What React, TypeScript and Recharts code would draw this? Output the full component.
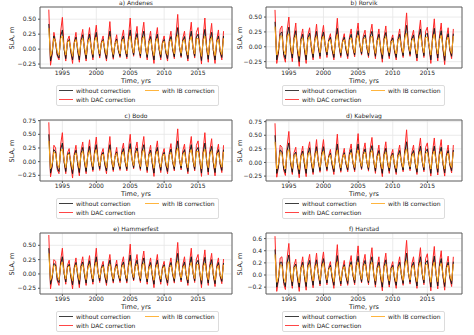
import { CartesianGrid, Line, LineChart, ReferenceArea, XAxis, YAxis } from 'recharts';

// quarterly samples, 1993.00 .. 2018.75
const TIME = Array.from({ length: 104 }, (_, i) => 1993 + i / 4);

// a) Andenes
const ANDENES_RAW = [
  0.42, -0.2, -0.06, 0.22, 0.1, -0.1, -0.15, 0.22, 0.32, 0.0, -0.16, 0.12, 0.16, -0.04, -0.18, 0.1,
  0.2, -0.02, -0.18, 0.14, 0.24, 0.0, -0.16, 0.12, 0.25, 0.02, -0.14, 0.15, 0.28, 0.04, -0.12, 0.1,
  0.16, -0.03, -0.16, 0.12, 0.3, 0.03, -0.14, 0.08, 0.17, -0.02, -0.12, 0.14, 0.22, 0.0, -0.13, 0.16,
  0.32, 0.05, -0.1, 0.15, 0.26, 0.02, -0.12, 0.18, 0.3, 0.03, -0.14, 0.11, 0.21, -0.02, -0.18, 0.14,
  0.25, 0.0, -0.14, 0.1, 0.16, -0.05, -0.16, 0.12, 0.21, 0.0, -0.13, 0.18, 0.36, 0.04, -0.12, 0.14,
  0.21, -0.02, -0.16, 0.16, 0.3, 0.02, -0.12, 0.2, 0.25, 0.02, -0.19, 0.15, 0.33, 0.03, -0.17, 0.15,
  0.28, -0.02, -0.18, 0.12, 0.22, -0.04, -0.14, 0.22,
];
const ANDENES_DAC = [
  0.66, -0.27, -0.08, 0.28, 0.12, -0.12, -0.18, 0.3, 0.53, 0.02, -0.2, 0.15, 0.22, -0.05, -0.24, 0.12,
  0.28, -0.02, -0.22, 0.18, 0.33, 0.0, -0.2, 0.15, 0.36, 0.02, -0.18, 0.2, 0.4, 0.05, -0.15, 0.12,
  0.22, -0.04, -0.2, 0.16, 0.46, 0.04, -0.17, 0.1, 0.24, -0.02, -0.14, 0.18, 0.32, 0.0, -0.16, 0.22,
  0.52, 0.06, -0.12, 0.2, 0.38, 0.02, -0.15, 0.25, 0.45, 0.04, -0.18, 0.14, 0.3, -0.03, -0.24, 0.18,
  0.36, 0.0, -0.18, 0.12, 0.22, -0.06, -0.2, 0.15, 0.3, 0.0, -0.16, 0.25, 0.58, 0.05, -0.14, 0.18,
  0.3, -0.02, -0.2, 0.22, 0.45, 0.03, -0.15, 0.28, 0.36, 0.02, -0.25, 0.2, 0.52, 0.04, -0.22, 0.2,
  0.43, -0.02, -0.24, 0.15, 0.32, -0.05, -0.18, 0.3,
];
const ANDENES_IB = [
  0.35, -0.12, -0.02, 0.18, 0.12, -0.05, -0.1, 0.18, 0.22, 0.03, -0.1, 0.12, 0.14, 0.0, -0.12, 0.1,
  0.16, 0.02, -0.11, 0.13, 0.18, 0.03, -0.1, 0.12, 0.18, 0.04, -0.09, 0.14, 0.2, 0.05, -0.08, 0.1,
  0.14, 0.01, -0.1, 0.12, 0.21, 0.04, -0.09, 0.09, 0.14, 0.01, -0.08, 0.13, 0.17, 0.02, -0.08, 0.14,
  0.22, 0.05, -0.06, 0.14, 0.19, 0.03, -0.08, 0.16, 0.21, 0.04, -0.09, 0.11, 0.16, 0.01, -0.11, 0.13,
  0.18, 0.02, -0.09, 0.1, 0.13, -0.02, -0.1, 0.11, 0.16, 0.02, -0.08, 0.16, 0.24, 0.05, -0.07, 0.13,
  0.16, 0.01, -0.1, 0.14, 0.21, 0.03, -0.08, 0.17, 0.18, 0.03, -0.12, 0.14, 0.22, 0.04, -0.1, 0.14,
  0.2, 0.01, -0.11, 0.12, 0.17, -0.01, -0.09, 0.18,
];

// b) Rorvik
const RORVIK_RAW = [
  0.42, -0.22, -0.08, 0.22, 0.25, -0.12, -0.2, 0.2, 0.33, -0.01, -0.19, 0.14, 0.27, -0.06, -0.25, 0.12,
  0.21, -0.04, -0.22, 0.15, 0.23, -0.01, -0.18, 0.11, 0.26, 0.0, -0.16, 0.14, 0.25, 0.02, -0.14, 0.1,
  0.16, -0.05, -0.18, 0.12, 0.31, 0.02, -0.15, 0.08, 0.16, -0.04, -0.16, 0.13, 0.21, -0.01, -0.14, 0.15,
  0.27, 0.03, -0.12, 0.14, 0.2, 0.0, -0.15, 0.17, 0.26, 0.02, -0.16, 0.1, 0.21, -0.03, -0.2, 0.13,
  0.24, -0.01, -0.16, 0.08, 0.15, -0.06, -0.18, 0.11, 0.21, -0.01, -0.15, 0.18, 0.36, 0.03, -0.13, 0.13,
  0.2, -0.03, -0.19, 0.16, 0.3, 0.02, -0.15, 0.2, 0.23, 0.0, -0.22, 0.14, 0.31, 0.02, -0.19, 0.14,
  0.27, -0.03, -0.23, 0.11, 0.22, -0.05, -0.16, 0.22,
];
const RORVIK_DAC = [
  0.62, -0.28, -0.1, 0.3, 0.35, -0.15, -0.26, 0.28, 0.5, -0.02, -0.25, 0.18, 0.4, -0.08, -0.33, 0.15,
  0.3, -0.05, -0.28, 0.2, 0.32, -0.02, -0.22, 0.14, 0.38, 0.0, -0.2, 0.18, 0.36, 0.02, -0.18, 0.12,
  0.22, -0.06, -0.22, 0.15, 0.48, 0.02, -0.18, 0.1, 0.22, -0.05, -0.2, 0.16, 0.3, -0.02, -0.17, 0.2,
  0.4, 0.03, -0.14, 0.18, 0.28, 0.0, -0.18, 0.22, 0.38, 0.02, -0.2, 0.12, 0.3, -0.04, -0.26, 0.16,
  0.35, -0.02, -0.2, 0.1, 0.2, -0.08, -0.22, 0.14, 0.3, -0.02, -0.18, 0.24, 0.57, 0.04, -0.16, 0.16,
  0.28, -0.04, -0.24, 0.2, 0.45, 0.02, -0.18, 0.26, 0.33, 0.0, -0.28, 0.18, 0.47, 0.02, -0.24, 0.18,
  0.4, -0.04, -0.3, 0.14, 0.32, -0.06, -0.2, 0.3,
];
const RORVIK_IB = [
  0.34, -0.14, -0.04, 0.18, 0.18, -0.06, -0.13, 0.16, 0.22, 0.02, -0.12, 0.12, 0.19, -0.02, -0.16, 0.1,
  0.15, 0.0, -0.14, 0.12, 0.17, 0.02, -0.12, 0.1, 0.18, 0.03, -0.1, 0.12, 0.18, 0.04, -0.09, 0.09,
  0.12, -0.01, -0.12, 0.1, 0.21, 0.03, -0.1, 0.08, 0.12, 0.0, -0.11, 0.11, 0.15, 0.01, -0.1, 0.13,
  0.19, 0.04, -0.08, 0.12, 0.15, 0.02, -0.1, 0.14, 0.18, 0.03, -0.11, 0.09, 0.15, 0.0, -0.13, 0.11,
  0.17, 0.01, -0.1, 0.08, 0.11, -0.03, -0.12, 0.1, 0.15, 0.01, -0.1, 0.15, 0.23, 0.04, -0.08, 0.11,
  0.14, 0.0, -0.12, 0.13, 0.2, 0.02, -0.1, 0.16, 0.16, 0.02, -0.14, 0.12, 0.21, 0.03, -0.12, 0.12,
  0.19, 0.0, -0.15, 0.1, 0.16, -0.02, -0.11, 0.18,
];

// c) Bodo
const BODO_RAW = [
  0.5, -0.21, -0.07, 0.22, 0.18, -0.12, -0.18, 0.23, 0.34, 0.0, -0.18, 0.13, 0.17, -0.05, -0.22, 0.11,
  0.21, -0.03, -0.2, 0.15, 0.26, 0.0, -0.18, 0.12, 0.28, 0.02, -0.15, 0.16, 0.31, 0.04, -0.13, 0.11,
  0.17, -0.04, -0.17, 0.13, 0.31, 0.03, -0.15, 0.08, 0.18, -0.02, -0.13, 0.15, 0.24, 0.0, -0.14, 0.17,
  0.33, 0.05, -0.11, 0.16, 0.25, 0.02, -0.13, 0.19, 0.31, 0.03, -0.16, 0.12, 0.21, -0.03, -0.21, 0.15,
  0.26, 0.0, -0.16, 0.1, 0.17, -0.05, -0.18, 0.12, 0.23, 0.0, -0.14, 0.19, 0.38, 0.04, -0.12, 0.15,
  0.22, -0.02, -0.18, 0.17, 0.31, 0.02, -0.14, 0.21, 0.26, 0.02, -0.21, 0.16, 0.34, 0.03, -0.19, 0.16,
  0.28, -0.02, -0.2, 0.13, 0.22, -0.04, -0.16, 0.22,
];
const BODO_DAC = [
  0.72, -0.28, -0.08, 0.3, 0.25, -0.15, -0.22, 0.32, 0.53, 0.0, -0.22, 0.16, 0.24, -0.06, -0.3, 0.14,
  0.3, -0.04, -0.26, 0.2, 0.36, 0.0, -0.22, 0.15, 0.4, 0.02, -0.18, 0.22, 0.45, 0.04, -0.16, 0.14,
  0.24, -0.05, -0.22, 0.18, 0.46, 0.03, -0.18, 0.1, 0.26, -0.03, -0.16, 0.2, 0.34, 0.0, -0.17, 0.24,
  0.5, 0.06, -0.13, 0.22, 0.36, 0.02, -0.16, 0.26, 0.46, 0.04, -0.2, 0.15, 0.3, -0.04, -0.27, 0.2,
  0.38, 0.0, -0.2, 0.13, 0.24, -0.06, -0.22, 0.16, 0.33, 0.0, -0.17, 0.26, 0.6, 0.05, -0.15, 0.2,
  0.32, -0.02, -0.22, 0.24, 0.46, 0.03, -0.17, 0.3, 0.38, 0.02, -0.27, 0.22, 0.53, 0.04, -0.24, 0.22,
  0.42, -0.02, -0.26, 0.16, 0.32, -0.05, -0.2, 0.3,
];
const BODO_IB = [
  0.38, -0.13, -0.03, 0.18, 0.14, -0.05, -0.11, 0.19, 0.23, 0.03, -0.11, 0.12, 0.14, 0.0, -0.14, 0.1,
  0.16, 0.02, -0.12, 0.13, 0.19, 0.03, -0.11, 0.12, 0.2, 0.04, -0.09, 0.14, 0.22, 0.05, -0.08, 0.1,
  0.14, 0.01, -0.11, 0.12, 0.22, 0.04, -0.1, 0.09, 0.15, 0.01, -0.09, 0.13, 0.18, 0.02, -0.09, 0.15,
  0.23, 0.05, -0.07, 0.14, 0.19, 0.03, -0.09, 0.16, 0.22, 0.04, -0.1, 0.11, 0.16, 0.01, -0.12, 0.13,
  0.19, 0.02, -0.1, 0.1, 0.14, -0.02, -0.11, 0.11, 0.17, 0.02, -0.09, 0.16, 0.25, 0.05, -0.08, 0.13,
  0.17, 0.01, -0.11, 0.15, 0.22, 0.03, -0.09, 0.18, 0.19, 0.03, -0.13, 0.14, 0.23, 0.04, -0.11, 0.14,
  0.2, 0.01, -0.12, 0.12, 0.17, -0.01, -0.1, 0.18,
];

// d) Kabelvag
const KABELVAG_RAW = [
  0.5, -0.2, -0.07, 0.23, 0.2, -0.11, -0.19, 0.22, 0.36, 0.0, -0.18, 0.14, 0.19, -0.05, -0.21, 0.11,
  0.21, -0.03, -0.2, 0.16, 0.27, 0.0, -0.18, 0.12, 0.29, 0.02, -0.15, 0.15, 0.29, 0.04, -0.13, 0.1,
  0.17, -0.04, -0.17, 0.12, 0.34, 0.03, -0.15, 0.08, 0.18, -0.02, -0.14, 0.15, 0.24, 0.0, -0.14, 0.16,
  0.34, 0.05, -0.11, 0.15, 0.25, 0.02, -0.13, 0.19, 0.31, 0.03, -0.16, 0.11, 0.22, -0.03, -0.2, 0.14,
  0.26, 0.0, -0.16, 0.1, 0.17, -0.05, -0.18, 0.12, 0.22, 0.0, -0.14, 0.19, 0.38, 0.04, -0.12, 0.14,
  0.22, -0.02, -0.18, 0.16, 0.3, 0.02, -0.14, 0.2, 0.25, 0.02, -0.2, 0.15, 0.3, 0.03, -0.18, 0.16,
  0.28, -0.02, -0.19, 0.12, 0.22, -0.04, -0.15, 0.23,
];
const KABELVAG_DAC = [
  0.72, -0.27, -0.08, 0.32, 0.28, -0.14, -0.24, 0.3, 0.57, 0.0, -0.22, 0.18, 0.28, -0.06, -0.28, 0.14,
  0.3, -0.04, -0.26, 0.22, 0.38, 0.0, -0.22, 0.15, 0.42, 0.02, -0.18, 0.2, 0.42, 0.04, -0.16, 0.12,
  0.24, -0.05, -0.22, 0.16, 0.52, 0.03, -0.18, 0.1, 0.26, -0.03, -0.17, 0.2, 0.34, 0.0, -0.17, 0.22,
  0.53, 0.06, -0.13, 0.2, 0.36, 0.02, -0.16, 0.26, 0.46, 0.04, -0.2, 0.14, 0.32, -0.04, -0.26, 0.18,
  0.38, 0.0, -0.2, 0.12, 0.24, -0.06, -0.22, 0.16, 0.32, 0.0, -0.17, 0.26, 0.6, 0.05, -0.15, 0.18,
  0.32, -0.02, -0.22, 0.22, 0.45, 0.03, -0.17, 0.28, 0.36, 0.02, -0.25, 0.2, 0.45, 0.04, -0.23, 0.22,
  0.42, -0.02, -0.25, 0.15, 0.32, -0.05, -0.19, 0.32,
];
const KABELVAG_IB = [
  0.38, -0.12, -0.03, 0.19, 0.15, -0.05, -0.12, 0.18, 0.24, 0.03, -0.11, 0.13, 0.15, 0.0, -0.13, 0.1,
  0.16, 0.02, -0.12, 0.14, 0.19, 0.03, -0.11, 0.12, 0.21, 0.04, -0.09, 0.13, 0.21, 0.05, -0.08, 0.09,
  0.14, 0.01, -0.11, 0.11, 0.23, 0.04, -0.1, 0.09, 0.15, 0.01, -0.09, 0.13, 0.18, 0.02, -0.09, 0.14,
  0.23, 0.05, -0.07, 0.14, 0.19, 0.03, -0.09, 0.16, 0.22, 0.04, -0.1, 0.1, 0.16, 0.01, -0.12, 0.12,
  0.19, 0.02, -0.1, 0.09, 0.14, -0.02, -0.11, 0.11, 0.16, 0.02, -0.09, 0.16, 0.25, 0.05, -0.08, 0.12,
  0.17, 0.01, -0.11, 0.14, 0.21, 0.03, -0.09, 0.17, 0.18, 0.03, -0.12, 0.14, 0.21, 0.04, -0.11, 0.14,
  0.2, 0.01, -0.12, 0.11, 0.17, -0.01, -0.09, 0.19,
];

// e) Hammerfest
const HAMMERFEST_RAW = [
  0.45, -0.18, -0.05, 0.18, 0.16, -0.1, -0.15, 0.18, 0.3, 0.01, -0.14, 0.12, 0.17, -0.04, -0.19, 0.1,
  0.2, -0.02, -0.18, 0.13, 0.21, 0.0, -0.16, 0.11, 0.23, 0.02, -0.14, 0.14, 0.3, 0.03, -0.12, 0.1,
  0.16, -0.03, -0.16, 0.12, 0.24, 0.02, -0.13, 0.08, 0.17, -0.02, -0.12, 0.14, 0.21, 0.0, -0.13, 0.15,
  0.33, 0.04, -0.1, 0.14, 0.24, 0.02, -0.12, 0.16, 0.28, 0.02, -0.14, 0.11, 0.2, -0.02, -0.18, 0.12,
  0.24, 0.0, -0.14, 0.1, 0.16, -0.04, -0.16, 0.11, 0.2, 0.0, -0.13, 0.17, 0.36, 0.04, -0.11, 0.12,
  0.21, -0.02, -0.16, 0.15, 0.3, 0.02, -0.12, 0.19, 0.24, 0.02, -0.18, 0.14, 0.29, 0.02, -0.16, 0.14,
  0.25, -0.02, -0.17, 0.11, 0.2, -0.03, -0.13, 0.19,
];
const HAMMERFEST_DAC = [
  0.68, -0.26, -0.06, 0.25, 0.22, -0.12, -0.2, 0.24, 0.45, 0.02, -0.18, 0.15, 0.24, -0.05, -0.26, 0.12,
  0.28, -0.02, -0.24, 0.16, 0.3, 0.0, -0.2, 0.14, 0.32, 0.02, -0.18, 0.18, 0.45, 0.04, -0.15, 0.12,
  0.22, -0.04, -0.2, 0.16, 0.34, 0.03, -0.16, 0.1, 0.24, -0.02, -0.15, 0.18, 0.3, 0.0, -0.16, 0.2,
  0.52, 0.05, -0.12, 0.18, 0.34, 0.02, -0.15, 0.22, 0.4, 0.03, -0.18, 0.14, 0.28, -0.03, -0.24, 0.16,
  0.34, 0.0, -0.18, 0.12, 0.22, -0.05, -0.2, 0.14, 0.28, 0.0, -0.16, 0.22, 0.55, 0.05, -0.14, 0.16,
  0.3, -0.02, -0.2, 0.2, 0.45, 0.03, -0.15, 0.26, 0.34, 0.02, -0.24, 0.18, 0.42, 0.03, -0.2, 0.18,
  0.36, -0.02, -0.22, 0.14, 0.28, -0.04, -0.17, 0.26,
];
const HAMMERFEST_IB = [
  0.36, -0.11, -0.02, 0.15, 0.13, -0.04, -0.1, 0.15, 0.21, 0.03, -0.09, 0.11, 0.14, 0.0, -0.12, 0.09,
  0.16, 0.02, -0.11, 0.11, 0.16, 0.03, -0.1, 0.1, 0.17, 0.04, -0.09, 0.12, 0.21, 0.04, -0.07, 0.09,
  0.13, 0.01, -0.1, 0.11, 0.17, 0.03, -0.09, 0.08, 0.14, 0.01, -0.08, 0.12, 0.16, 0.02, -0.08, 0.13,
  0.22, 0.05, -0.06, 0.12, 0.17, 0.03, -0.08, 0.14, 0.19, 0.03, -0.09, 0.1, 0.15, 0.01, -0.11, 0.11,
  0.17, 0.02, -0.09, 0.09, 0.13, -0.01, -0.1, 0.1, 0.15, 0.02, -0.08, 0.14, 0.23, 0.05, -0.07, 0.11,
  0.15, 0.01, -0.1, 0.13, 0.2, 0.03, -0.08, 0.16, 0.17, 0.03, -0.11, 0.12, 0.19, 0.03, -0.1, 0.12,
  0.17, 0.01, -0.11, 0.1, 0.15, -0.01, -0.08, 0.16,
];

// f) Harstad
const HARSTAD_RAW = [
  0.42, -0.2, -0.07, 0.21, 0.21, -0.11, -0.19, 0.21, 0.33, 0.0, -0.18, 0.13, 0.18, -0.05, -0.2, 0.11,
  0.21, -0.02, -0.19, 0.15, 0.24, 0.0, -0.17, 0.11, 0.25, 0.02, -0.15, 0.15, 0.27, 0.04, -0.13, 0.1,
  0.16, -0.04, -0.17, 0.12, 0.32, 0.03, -0.15, 0.08, 0.17, -0.02, -0.14, 0.14, 0.22, 0.0, -0.13, 0.16,
  0.31, 0.04, -0.11, 0.15, 0.24, 0.02, -0.13, 0.18, 0.3, 0.02, -0.16, 0.11, 0.21, -0.03, -0.2, 0.14,
  0.25, 0.0, -0.16, 0.1, 0.16, -0.05, -0.17, 0.12, 0.21, 0.0, -0.14, 0.18, 0.36, 0.04, -0.12, 0.14,
  0.21, -0.02, -0.18, 0.16, 0.3, 0.02, -0.13, 0.2, 0.24, 0.02, -0.2, 0.15, 0.31, 0.02, -0.18, 0.15,
  0.27, -0.02, -0.19, 0.12, 0.21, -0.04, -0.15, 0.22,
];
const HARSTAD_DAC = [
  0.64, -0.27, -0.08, 0.28, 0.3, -0.14, -0.24, 0.28, 0.52, 0.0, -0.22, 0.16, 0.26, -0.06, -0.27, 0.13,
  0.3, -0.03, -0.25, 0.2, 0.34, 0.0, -0.21, 0.14, 0.36, 0.02, -0.18, 0.2, 0.38, 0.04, -0.16, 0.12,
  0.22, -0.05, -0.22, 0.16, 0.5, 0.03, -0.18, 0.1, 0.24, -0.03, -0.17, 0.18, 0.32, 0.0, -0.16, 0.22,
  0.48, 0.05, -0.13, 0.2, 0.34, 0.02, -0.16, 0.24, 0.45, 0.03, -0.2, 0.14, 0.3, -0.04, -0.26, 0.18,
  0.36, 0.0, -0.2, 0.12, 0.22, -0.06, -0.22, 0.15, 0.3, 0.0, -0.17, 0.24, 0.57, 0.05, -0.15, 0.18,
  0.3, -0.02, -0.22, 0.22, 0.45, 0.03, -0.16, 0.27, 0.35, 0.02, -0.26, 0.2, 0.47, 0.03, -0.23, 0.2,
  0.4, -0.02, -0.25, 0.15, 0.31, -0.05, -0.19, 0.3,
];
const HARSTAD_IB = [
  0.34, -0.12, -0.03, 0.17, 0.15, -0.05, -0.12, 0.17, 0.22, 0.03, -0.11, 0.12, 0.14, 0.0, -0.13, 0.1,
  0.16, 0.02, -0.12, 0.13, 0.18, 0.03, -0.1, 0.11, 0.18, 0.04, -0.09, 0.13, 0.2, 0.05, -0.08, 0.09,
  0.13, 0.01, -0.11, 0.11, 0.22, 0.04, -0.1, 0.09, 0.14, 0.01, -0.09, 0.12, 0.17, 0.02, -0.08, 0.14,
  0.21, 0.05, -0.07, 0.14, 0.18, 0.03, -0.09, 0.15, 0.21, 0.03, -0.1, 0.1, 0.15, 0.01, -0.12, 0.12,
  0.18, 0.02, -0.1, 0.09, 0.13, -0.02, -0.11, 0.11, 0.16, 0.02, -0.09, 0.15, 0.24, 0.05, -0.08, 0.12,
  0.16, 0.01, -0.11, 0.14, 0.21, 0.03, -0.08, 0.17, 0.17, 0.03, -0.12, 0.13, 0.21, 0.03, -0.11, 0.13,
  0.19, 0.01, -0.12, 0.11, 0.16, -0.01, -0.09, 0.18,
];

const X_DOMAIN: [number, number] = [1991.7, 2020];
const X_TICKS = [1995, 2000, 2005, 2010, 2015];
const TICKS_025 = [-0.25, 0, 0.25, 0.5];
const TICKS_075 = [-0.25, 0, 0.25, 0.5, 0.75];
const TICKS_02 = [-0.2, 0, 0.2, 0.4, 0.6];

const PANELS = [
  { title: 'a) Andenes', col: 0, row: 0, y: [-0.316, 0.704], ticks: TICKS_025, dec: 2, raw: ANDENES_RAW, dac: ANDENES_DAC, ib: ANDENES_IB },
  { title: 'b) Rorvik', col: 1, row: 0, y: [-0.357, 0.669], ticks: TICKS_025, dec: 2, raw: RORVIK_RAW, dac: RORVIK_DAC, ib: RORVIK_IB },
  { title: 'c) Bodo', col: 0, row: 1, y: [-0.354, 0.762], ticks: TICKS_075, dec: 2, raw: BODO_RAW, dac: BODO_DAC, ib: BODO_IB },
  { title: 'd) Kabelvag', col: 1, row: 1, y: [-0.34, 0.78], ticks: TICKS_075, dec: 2, raw: KABELVAG_RAW, dac: KABELVAG_DAC, ib: KABELVAG_IB },
  { title: 'e) Hammerfest', col: 0, row: 2, y: [-0.35, 0.715], ticks: TICKS_025, dec: 2, raw: HAMMERFEST_RAW, dac: HAMMERFEST_DAC, ib: HAMMERFEST_IB },
  { title: 'f) Harstad', col: 1, row: 2, y: [-0.313, 0.692], ticks: TICKS_02, dec: 1, raw: HARSTAD_RAW, dac: HARSTAD_DAC, ib: HARSTAD_IB },
];

const FONT = '"DejaVu Sans", sans-serif';
const TEXT = '#262626';
const C_RAW = '#1c1c1c';
const C_DAC = '#ff2626';
const C_IB = '#ffa81c';

const COLS = [
  { x: 0, w: 237, axisW: 40, right: 5, label: 12 },
  { x: 234, w: 240, axisW: 32, right: 12, label: 240 },
];
const ROW_TOPS = [7, 120, 233];
const PLOT_H = 61;

const fmt = (dec: number) => (v: number) => (v < 0 ? '\u2212' : '') + Math.abs(v).toFixed(dec);

function LegendItem({ x, y, color, label }: { x: number; y: number; color: string; label: string }) {
  return (
    <>
      <div style={{ position: 'absolute', left: x, top: y, width: 14, height: 1, background: color, opacity: 0.85 }} />
      <div style={{ position: 'absolute', left: x + 17, top: y - 4.5, height: 10, lineHeight: '10px', whiteSpace: 'nowrap' }}>
        {label}
      </div>
    </>
  );
}

function Panel({ p }: { p: (typeof PANELS)[number] }) {
  const col = COLS[p.col];
  const top = ROW_TOPS[p.row];
  const plotLeft = col.x + col.axisW;
  const plotW = col.w - col.axisW - col.right;
  const bottom = top + PLOT_H;
  const data = TIME.map((t, i) => ({ t, raw: p.raw[i], dac: p.dac[i], ib: p.ib[i] }));
  const tickStyle = { fontSize: 6, fill: TEXT, fontFamily: FONT };

  return (
    <>
      <div style={{ position: 'absolute', left: plotLeft, width: plotW, top: top - 9, height: 10, lineHeight: '10px', textAlign: 'center', fontSize: 6 }}>
        {p.title}
      </div>
      <div style={{ position: 'absolute', left: col.x, top: top - 5 }}>
        <LineChart width={col.w} height={5 + PLOT_H + 14} data={data} margin={{ top: 5, right: col.right, bottom: 0, left: 0 }}>
          <CartesianGrid stroke="#e6e6e6" strokeWidth={0.8} />
          <XAxis
            dataKey="t"
            type="number"
            domain={X_DOMAIN}
            ticks={X_TICKS}
            allowDataOverflow
            interval={0}
            height={14}
            tickSize={2}
            tickMargin={1}
            axisLine={false}
            tickLine={{ stroke: '#555' }}
            tick={tickStyle}
          />
          <YAxis
            type="number"
            domain={p.y}
            ticks={p.ticks}
            allowDataOverflow
            interval={0}
            width={col.axisW}
            tickSize={2}
            tickMargin={2}
            axisLine={false}
            tickLine={{ stroke: '#555' }}
            tick={tickStyle}
            tickFormatter={fmt(p.dec)}
          />
          <Line type="linear" dataKey="dac" stroke={C_DAC} strokeWidth={1} dot={false} isAnimationActive={false} />
          <Line type="linear" dataKey="raw" stroke={C_RAW} strokeWidth={1} dot={false} isAnimationActive={false} />
          <Line type="linear" dataKey="ib" stroke={C_IB} strokeWidth={1} dot={false} isAnimationActive={false} />
          <ReferenceArea x1={X_DOMAIN[0]} x2={X_DOMAIN[1]} y1={p.y[0]} y2={p.y[1]} fill="none" stroke="#555" strokeWidth={0.9} ifOverflow="visible" />
        </LineChart>
      </div>
      <div style={{ position: 'absolute', left: plotLeft, width: plotW, top: bottom + 7.5, height: 10, lineHeight: '10px', textAlign: 'center', fontSize: 6.5 }}>
        Time, yrs
      </div>
      <div
        style={{
          position: 'absolute',
          left: col.label - 20,
          width: 40,
          top: top + PLOT_H / 2 - 5,
          height: 10,
          lineHeight: '10px',
          textAlign: 'center',
          fontSize: 6.5,
          transform: 'rotate(-90deg)',
        }}
      >
        SLA, m
      </div>
      <div
        style={{
          position: 'absolute',
          left: plotLeft + 16,
          top: bottom + 17,
          width: 163,
          height: 21,
          border: '1px solid #dcdcdc',
          borderRadius: 2,
          boxSizing: 'border-box',
          background: '#fff',
          fontSize: 6,
        }}
      >
        <LegendItem x={2} y={4} color={C_RAW} label="without correction" />
        <LegendItem x={2} y={13} color={C_DAC} label="with DAC correction" />
        <LegendItem x={88} y={4} color={C_IB} label="with IB correction" />
      </div>
    </>
  );
}

export default function App() {
  return (
    <div
      style={{
        position: 'absolute',
        left: 0,
        top: 0,
        width: 474,
        height: 335,
        overflow: 'hidden',
        background: '#fff',
        fontFamily: FONT,
        color: TEXT,
      }}
    >
      {PANELS.map((p) => (
        <Panel key={p.title} p={p} />
      ))}
    </div>
  );
}
